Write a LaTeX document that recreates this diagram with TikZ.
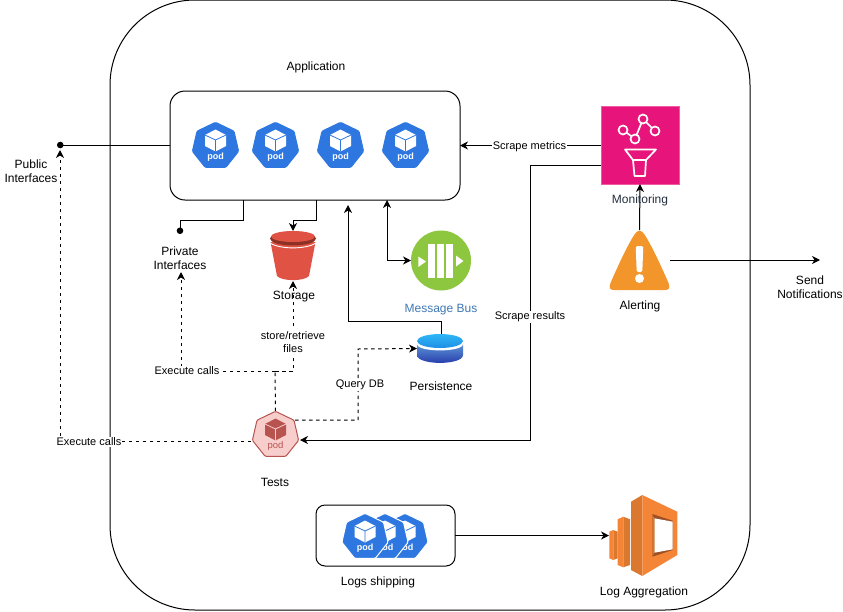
\documentclass[tikz,border=0pt]{standalone}
\usepackage{fontspec}
\setmainfont{Liberation Sans}
\usetikzlibrary{arrows.meta,calc,shapes.geometric}
\definecolor{podblue2}{HTML}{2F77E0}
\definecolor{testfill}{HTML}{F8CECC}
\definecolor{teststroke}{HTML}{B85450}
\definecolor{monpink}{HTML}{E7157B}
\definecolor{busgreen}{HTML}{8DC63F}
\definecolor{alertorange}{HTML}{F2952A}
\definecolor{bucketred}{HTML}{E05243}
\definecolor{bucketdark}{HTML}{8C3123}
\definecolor{logorange}{HTML}{F58536}
\definecolor{logdark}{HTML}{9D5025}
\definecolor{logmid}{HTML}{D9782E}
\definecolor{labelgrey}{HTML}{232F3E}
\definecolor{busblue}{HTML}{3F78B5}
\definecolor{dbtop}{HTML}{2FB6F5}
\definecolor{dbtopb}{HTML}{1F8FE6}
\definecolor{dbmid}{HTML}{5F9AD8}
\definecolor{dbbot}{HTML}{2233A8}
\tikzset{
  lbl/.style={font=\fontsize{12}{14}\selectfont,align=center,inner sep=0pt,text=black,yshift=-1.4pt},
  onedge/.style={font=\fontsize{11}{13.5}\selectfont,align=center,inner sep=0pt,text=black,fill=white,inner xsep=1pt,inner ysep=1pt,yshift=-1pt},
  frame/.style={draw=black,line width=1pt,fill=white},
  slot/.style={inner sep=0pt,outer sep=0pt,rectangle},
  conn/.style={draw=black,line width=1pt},
  arr/.style={conn,-{Stealth[length=8pt,width=8pt,inset=2.5pt]}},
  dbl/.style={conn,{Stealth[length=8pt,width=8pt,inset=2.5pt]}-{Stealth[length=8pt,width=8pt,inset=2.5pt]}},
  dotted end/.style={conn,-{Circle[length=6.5pt,width=6.5pt]}},
  dash line/.style={dash pattern=on 3.5pt off 3.5pt},
}
% \podglyph{x}{y}{name}{fill}{edge}{cube}{cube lines}{text font}
\newcommand{\podglyph}[8]{%
  \begin{scope}[shift={(#1,#2)}]
    \fill[#4,draw=#5,line width=1pt,rounded corners=1.2pt]
      (0,-23.7) -- (18.5,-14.8) -- (23.1,5.3) -- (10.3,21.4) -- (-10.3,21.4) -- (-23.1,5.3) -- (-18.5,-14.8) -- cycle;
    \fill[#6,line join=round] (0,-16.5) -- (10.5,-11) -- (10.5,0) -- (0,5.5) -- (-10.5,0) -- (-10.5,-11) -- cycle;
    \draw[#7,line width=.8pt] (-10.5,-11) -- (0,-6) -- (10.5,-11) (0,-6) -- (0,5.5);
    \node[inner sep=0pt,text=#6,font=#8] (#3) at (0,11.5) {pod};
  \end{scope}}
\newcommand{\bluepod}[3]{\podglyph{#1}{#2}{#3}{podblue2}{podblue2}{white}{podblue2}{\fontsize{9}{11}\selectfont\bfseries}}
\newcommand{\logpod}[3]{\podglyph{#1}{#2}{#3}{podblue2}{white}{white}{podblue2}{\fontsize{9}{11}\selectfont\bfseries}}
\begin{document}
\begin{tikzpicture}[x=1pt,y=-1pt]
\useasboundingbox (0,0) rectangle (843,611);
\fill[white] (0,0) rectangle (843,611);
% outer boundary
\node[slot,draw=black,line width=1pt,rounded corners=85pt,minimum width=640pt,minimum height=610pt] (outer) at (430,305) {};
% boxes
\node[slot,frame,rounded corners=15pt,minimum width=290pt,minimum height=109pt] (app) at (315,145.5) {};
\node[slot,frame,rounded corners=9pt,minimum width=139pt,minimum height=61pt] (logs) at (385.5,535.5) {};
% pods
\bluepod{215.5}{146}{p1}
\bluepod{275.5}{146}{p2}
\bluepod{340.5}{146}{p3}
\bluepod{405.5}{146}{p4}
\logpod{405}{537}{lp3}
\logpod{385}{537}{lp2}
\logpod{365}{537}{lp1}
% monitoring
\node[slot,fill=monpink,draw=monpink!70!white,line width=.6pt,minimum width=78pt,minimum height=78pt] (mon) at (640,145) {};
\begin{scope}[white,line width=1.7pt]
  \draw (623,130) -- (635,139) -- (643,119) -- (655,131);
  \fill[monpink,draw=white] (623,130) circle (4.5pt);
  \fill[monpink,draw=white] (635,139) circle (4.5pt);
  \fill[monpink,draw=white] (643,119) circle (4.5pt);
  \fill[monpink,draw=white] (655,131) circle (4.5pt);
  \draw[line join=round] (625,149.5) -- (656,149.5) -- (646,160) -- (645,176) -- (634.5,176) -- (633,160) -- cycle;
  \draw (633,160) -- (646,160);
\end{scope}
% alerting
\node[slot,minimum width=60pt,minimum height=60pt] (alert) at (639.5,260) {};
\fill[alertorange] (634.5,234.5) .. controls (637.5,229.5) and (641.5,229.5) .. (644.5,234.5)
  .. controls (652,246) and (662,268) .. (668.5,283) .. controls (670.5,288) and (669,290) .. (665,290)
  -- (614,290) .. controls (610,290) and (608.5,288) .. (610.5,283)
  .. controls (617,268) and (627,246) .. (634.5,234.5) -- cycle;
\fill[white,rounded corners=1.5pt] (635.7,246) -- (643.3,246) -- (642.3,272) -- (636.7,272) -- cycle;
\fill[white] (639.5,278.5) circle (4.5pt);
% bucket
\node[slot,minimum width=46pt,minimum height=49pt] (bucket) at (293,255.5) {};
\fill[bucketred] (270.5,242) -- (277,276) .. controls (282,281.5) and (304,281.5) .. (309,276) -- (315.5,242) -- cycle;
\fill[bucketdark] (293,238.5) ellipse (23pt and 7pt);
\fill[bucketred] (293,236.5) ellipse (22pt and 5.5pt);
\draw[white,line width=.9pt] (270,243) .. controls (280,249.5) and (306,249.5) .. (316,243);
% message bus
\node[slot,circle,fill=busgreen,minimum size=60pt] (bus) at (441,260.5) {};
\fill[white] (428.3,244) rectangle (435,277.5);
\fill[white] (437,244) rectangle (444,277.5);
\fill[white] (446,244) rectangle (453,277.5);
\fill[white] (418.3,256.5) -- (426,261.5) -- (418.3,267) -- cycle;
\fill[white] (456,255.5) -- (463.5,261) -- (456,266.5) -- cycle;
% persistence
\node[slot,minimum width=46pt,minimum height=29pt] (db) at (440,348.5) {};
\shade[top color=dbmid,bottom color=dbbot] (417,343) -- (463,343) -- (463,355) .. controls (463,365.5) and (417,365.5) .. (417,355) -- cycle;
\fill[white] (417,342) -- (463,342) -- (463,344) .. controls (463,352.5) and (417,352.5) .. (417,344) -- cycle;
\shade[top color=dbtop,bottom color=dbtopb] (440,341) ellipse (23pt and 7pt);
% tests
\podglyph{275.5}{435}{tp}{testfill}{teststroke}{teststroke}{testfill}{\fontsize{9.5}{11}\selectfont}
\node[slot,minimum width=49pt,minimum height=47pt] (tests) at (275.5,434.5) {};
% log aggregation
\node[slot,minimum width=68pt,minimum height=81pt] (logagg) at (643,535.5) {};
\fill[logorange] (609.3,531.7) -- (613.3,530) -- (613.3,560) -- (609.3,558.3) -- cycle;
\fill[logmid] (613.3,530) -- (617.7,531.7) -- (617.7,558.3) -- (613.3,560) -- cycle;
\fill[logorange] (617.7,519.3) -- (623.3,516.7) -- (623.3,567.3) -- (617.7,565) -- cycle;
\fill[logmid] (623.3,516.7) -- (630,519.3) -- (630,565) -- (623.3,567.3) -- cycle;
\fill[logmid] (631,501.7) -- (642.3,495) -- (642.3,576) -- (631,570) -- cycle;
\fill[logorange] (642.3,495) -- (677.3,511.7) -- (677.3,555) -- (642.3,576) -- cycle;
\fill[logdark] (652.3,514) -- (672.7,520.7) -- (672.7,550) -- (652.3,556.7) -- cycle;
\fill[white] (654.3,518.3) -- (672.7,521.7) -- (672.7,549.3) -- (654.3,552.7) -- cycle;
\fill[logmid] (652.3,514) -- (654.3,518.3) -- (654.3,552.7) -- (652.3,556.7) -- cycle;
% dots and free ends
\coordinate (pubdot) at (57,145);
\coordinate (privdot) at (180,234);
\coordinate (scrape) at (530,165);
\coordinate (notify) at (820,260);
\coordinate (extest) at (60,441);
\coordinate (split) at (275,371);
% connectors
\draw[dotted end] (app.west |- pubdot) -- (pubdot);
\draw[dotted end] (243,200) |- (180,220) -- (privdot);
\draw[arr] (316,200) |- (293,220) -- (bucket.north);
\draw[arr] (db.north -| 441,0) |- (348,321) -- (348,205);
\draw[dbl] (387,200) |- (bus.west);
\draw[arr] (mon.west |- app.east) -- (app.east) node[onedge,midway,xshift=-1pt] {Scrape metrics};
\draw[conn] (mon.west |- scrape) -- (scrape);
\draw[arr] (scrape) -- (530,440) -- (tests.east |- 0,440);
\node[onedge] at (530,316) {Scrape results};
\draw[arr] (alert.north) -- (mon.south);
\draw[arr] (alert.east) -- (notify);
\draw[arr,dash line] (tests.west |- extest) -- (extest) -- (60,150);
\node[onedge] at (89,441) {Execute calls};
\draw[conn,dash line] (tests.north) -- (split);
\draw[arr,dash line] (split) -- (181,371) -- (181,272);
\node[onedge] at (187,370) {Execute calls};
\draw[arr,dash line] (split) -- (293,371) -- (293,281);
\node[onedge] at (293,341) {store/retrieve\\files};
\draw[arr,dash line] (295,420) -- (358,420) -- (358,349) -- (db.west);
\node[onedge] at (360,384) {Query DB};
\draw[arr] (logs.east) -- (logagg.west |- logs.east);
% labels
\node[lbl] (tApp) at (316,66) {Application};
\node[lbl] (tPub) at (31,170) {Public\\Interfaces};
\node[lbl] (tPriv) at (180,256.5) {Private\\Interfaces};
\node[lbl] (tSto) at (294,295) {Storage};
\node[lbl,text=labelgrey] (tMon) at (640,199) {Monitoring};
\node[lbl] (tAl) at (640,305) {Alerting};
\node[lbl,text=busblue] (tBus) at (441,308) {Message Bus};
\node[lbl] (tPer) at (441,385) {Persistence};
\node[lbl] (tTes) at (275,481) {Tests};
\node[lbl] (tLog) at (378,581) {Logs shipping};
\node[lbl] (tAgg) at (644,591) {Log Aggregation};
\node[lbl] (tSend) at (810,286) {Send\\Notifications};
\end{tikzpicture}
\end{document}
